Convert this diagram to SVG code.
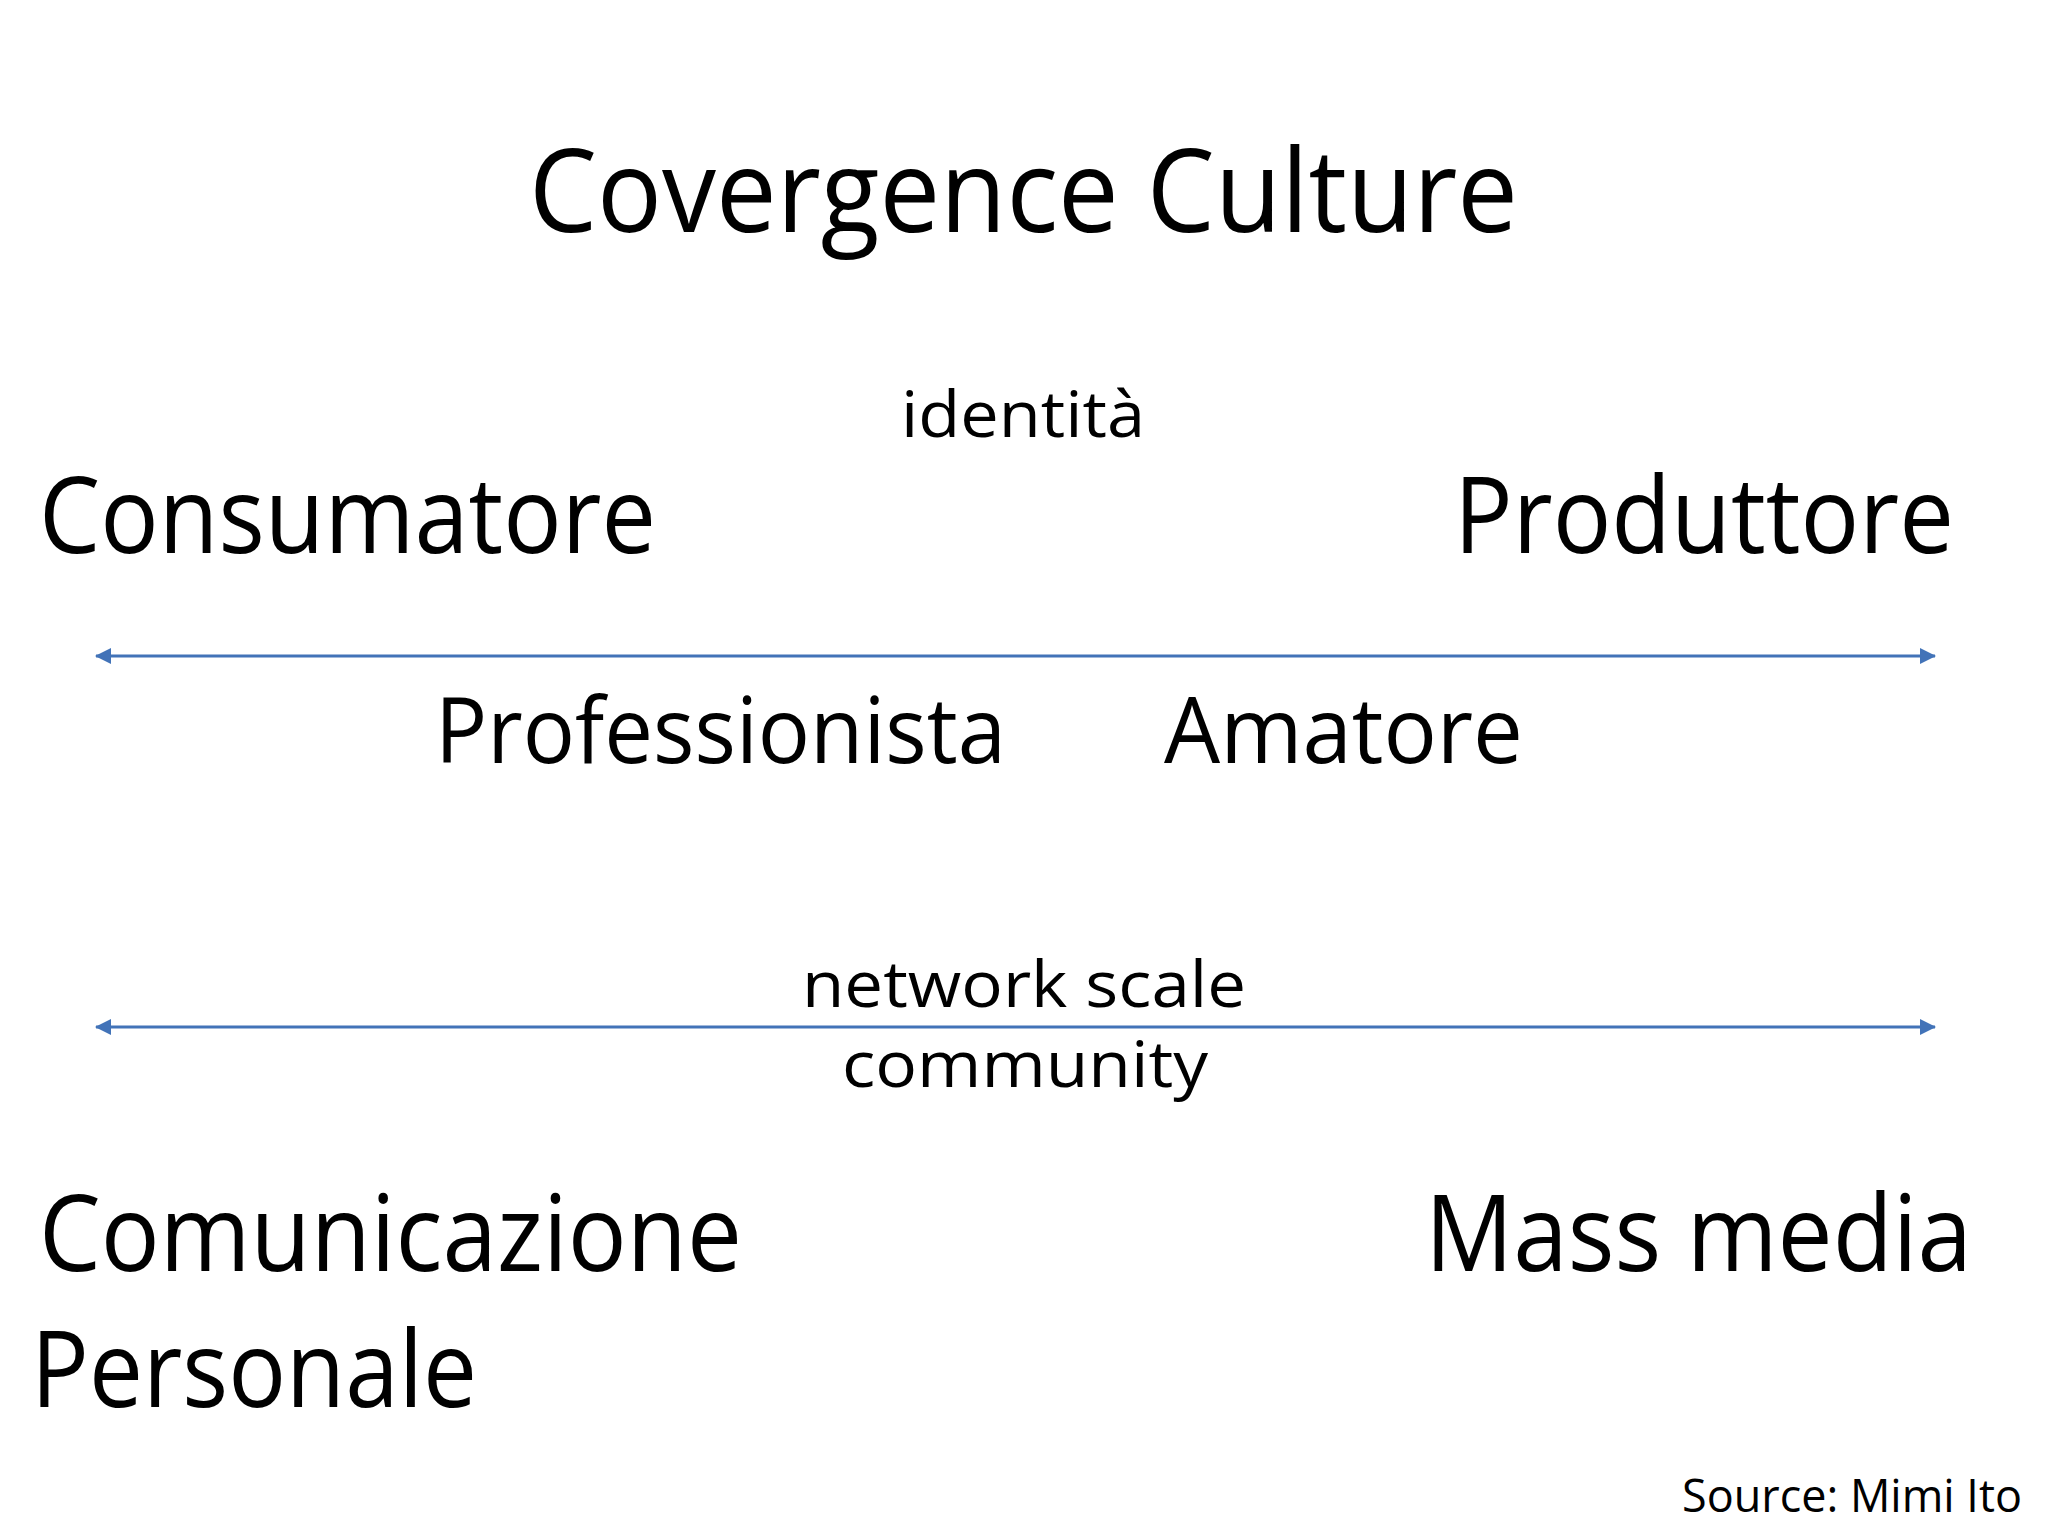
<svg xmlns="http://www.w3.org/2000/svg" width="2048" height="1536" viewBox="0 0 2048 1536">
<style>
text{font-family:"Open Sans","Noto Sans",sans-serif;fill:#000}
.big{font-size:106px}
.mid{font-size:92px}
.sm{font-size:64px}
.conn{stroke:#4273B8;stroke-width:3;fill:none}
</style>
<defs>
<marker id="ah" markerUnits="userSpaceOnUse" viewBox="0 0 16 16" refX="15" refY="8" markerWidth="16" markerHeight="16" orient="auto-start-reverse">
<path d="M0,0 L16,8 L0,16 Z" fill="#4273B8"/>
</marker>
</defs>
<rect width="2048" height="1536" fill="#fff"/>
<g id="title"><text x="529" y="232" font-size="115" textLength="989" lengthAdjust="spacingAndGlyphs">Covergence Culture</text></g>
<g id="identita"><text class="sm" x="901" y="437" textLength="244" lengthAdjust="spacingAndGlyphs">identità</text></g>
<g id="consumatore"><text class="big" x="39" y="553" textLength="617" lengthAdjust="spacingAndGlyphs">Consumatore</text></g>
<g id="produttore"><text class="big" x="1454" y="553" textLength="500" lengthAdjust="spacingAndGlyphs">Produttore</text></g>
<g id="professionista"><text class="mid" x="435" y="763" textLength="571" lengthAdjust="spacingAndGlyphs">Professionista</text></g>
<g id="amatore"><text class="mid" x="1164" y="763" textLength="359" lengthAdjust="spacingAndGlyphs">Amatore</text></g>
<g id="network"><text class="sm" x="802" y="1007" textLength="444" lengthAdjust="spacingAndGlyphs">network scale</text></g>
<g id="community"><text class="sm" x="842" y="1087" textLength="366" lengthAdjust="spacingAndGlyphs">community</text></g>
<g id="comunicazione"><text class="big" x="39" y="1271" textLength="703" lengthAdjust="spacingAndGlyphs">Comunicazione</text></g>
<g id="personale"><text class="big" x="31" y="1407" textLength="446" lengthAdjust="spacingAndGlyphs">Personale</text></g>
<g id="massmedia"><text class="big" x="1425" y="1271" textLength="547" lengthAdjust="spacingAndGlyphs">Mass media</text></g>
<g id="source"><text x="1682" y="1512" font-size="45" textLength="340" lengthAdjust="spacingAndGlyphs">Source: Mimi Ito</text></g>
<g id="connectors">
<line class="conn" x1="96" y1="656" x2="1935" y2="656" marker-start="url(#ah)" marker-end="url(#ah)"/>
<line class="conn" x1="96" y1="1027" x2="1935" y2="1027" marker-start="url(#ah)" marker-end="url(#ah)"/>
</g>
</svg>
